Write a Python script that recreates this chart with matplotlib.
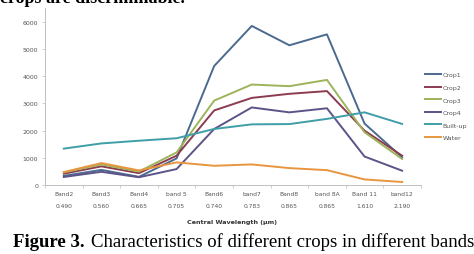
import matplotlib.pyplot as plt
import numpy as np

# Data
bands = ["Band2", "Band3", "Band4", "band 5", "Band6", "band7", "Band8", "band 8A", "Band 11", "band12"]
wavelengths = ["0.490", "0.560", "0.665", "0.705", "0.740", "0.783", "0.865", "0.865", "1.610", "2.190"]

crop1 = [340, 560, 305, 980, 4370, 5840, 5130, 5530, 2260, 1020]
crop2 = [420, 690, 440, 1080, 2740, 3200, 3350, 3450, 2000, 1080]
crop3 = [470, 760, 500, 1200, 3100, 3690, 3630, 3860, 1940, 960]
crop4 = [300, 490, 290, 590, 2060, 2850, 2670, 2820, 1050, 530]
builtup = [1340, 1530, 1630, 1720, 2060, 2230, 2240, 2430, 2670, 2245]
water = [480, 810, 540, 835, 710, 760, 625, 550, 210, 115]

series = [("Crop1", crop1, "#4b6a8e"),
          ("Crop2", crop2, "#8c3b50"),
          ("Crop3", crop3, "#9db45a"),
          ("Crop4", crop4, "#5c5488"),
          ("Built-up", builtup, "#3f9ea8"),
          ("Water", water, "#e8953f")]

fig = plt.figure(figsize=(4.74, 2.55), dpi=100)
ax = fig.add_axes([0.095, 0.27, 0.793, 0.695])

x = np.arange(len(bands))
for name, vals, col in series:
    ax.plot(x, vals, color=col, linewidth=1.4, label=name)

ax.set_xlim(-0.5, len(bands) - 0.5)
ax.set_ylim(0, 6500)
ax.set_yticks(range(0, 7000, 1000))
ax.tick_params(axis="y", labelsize=4.5, length=2, width=0.5, color="#bbbbbb", labelcolor="#555555", pad=3)

# category separators as ticks on the x axis
ax.set_xticks(np.arange(-0.5, len(bands), 1))
ax.set_xticklabels([])
ax.tick_params(axis="x", length=2.5, width=0.5, color="#bbbbbb")

for side in ["top", "right"]:
    ax.spines[side].set_visible(False)
for side in ["left", "bottom"]:
    ax.spines[side].set_color("#c0c0c0")
    ax.spines[side].set_linewidth(0.7)

# two-row category labels
for i in x:
    ax.text(i, -0.035, bands[i], transform=ax.get_xaxis_transform(),
            ha="center", va="top", fontsize=4.3, color="#555555")
    ax.text(i, -0.10, wavelengths[i], transform=ax.get_xaxis_transform(),
            ha="center", va="top", fontsize=4.3, color="#555555")

fig.text(0.49, 0.128, "Central Wavelength (µm)", ha="center", va="center",
         fontsize=4.6, fontweight="bold", color="#333333")

ax.legend(loc="center left", bbox_to_anchor=(0.885, 0.58), bbox_transform=fig.transFigure,
          frameon=False, fontsize=4.5, handlelength=2.6, handletextpad=0.2,
          labelspacing=1.15, labelcolor="#555555")

# surrounding document text
fig.text(0.0, 0.988, "crops are discriminable.", ha="left", va="baseline",
         fontsize=13, fontweight="bold", family="Liberation Serif")
fig.text(0.027, 0.032, "Figure 3.", ha="left", va="baseline",
         fontsize=13.5, fontweight="bold", family="Liberation Serif")
fig.text(0.193, 0.032, "Characteristics of different crops in different bands", ha="left",
         va="baseline", fontsize=13.5, family="Liberation Serif")

fig.savefig("out.png", dpi=100)
plt.close()
